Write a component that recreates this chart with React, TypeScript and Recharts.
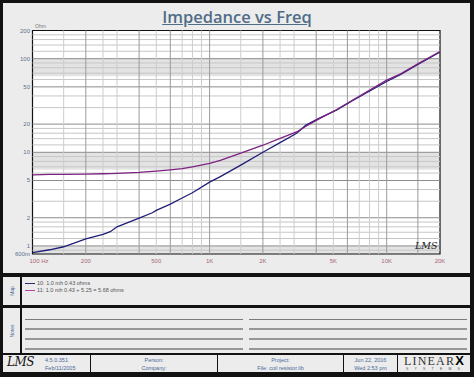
import React from 'react';
import { LineChart, Line, XAxis, YAxis, ReferenceLine, ReferenceArea } from 'recharts';

// measured impedance sweep, 100 Hz .. 20 kHz
const freqHz = [100, 125, 150, 200, 250, 275, 300, 400, 475, 500, 600, 700, 800, 1000, 1150, 1500, 2000, 2500, 3100, 3500, 4200, 5200, 6400, 10000, 12000, 15000, 20000];
// 10: 1.0 mh 0.43 ohms
const coil10 = [0.85, 0.91, 0.98, 1.19, 1.33, 1.42, 1.6, 1.98, 2.26, 2.4, 2.8, 3.25, 3.7, 4.8, 5.5, 7.3, 10.0, 12.7, 16.0, 19.5, 23.3, 28.2, 35.5, 57, 68, 87, 118];
// 11: 1.0 mh 0.43 + 5.25 = 5.68 ohms
const coil11 = [5.75, 5.8, 5.8, 5.85, 5.9, 5.92, 5.97, 6.1, 6.25, 6.3, 6.5, 6.7, 7.0, 7.6, 8.2, 9.8, 11.9, 14.1, 16.5, 19.0, 23.0, 28.5, 36, 59, 69, 88, 119];

const xTicks = [100, 200, 500, 1000, 2000, 5000, 10000, 20000];
const xTickLabels = ['100 Hz', '200', '500', '1K', '2K', '5K', '10K', '20K'];
const yTicks = [0.82, 1, 2, 5, 10, 20, 50, 100, 200];
const yTickLabels = ['600m', '1', '2', '5', '10', '20', '50', '100', '200'];

const legendItems = [
  { label: '10: 1.0 mh  0.43 ohms', color: '#2a2a72' },
  { label: '11: 1.0 mh  0.43 + 5.25 = 5.68 ohms', color: '#b540aa' },
];

const NAVY = '#1f1f78';
const PURPLE = '#7c2282';

// grid
const xMult = [1, 1.5, 2, 2.5, 3, 4, 5, 6, 7, 8, 9];
const xDark = [200, 400, 600, 1000, 2000, 4000, 6000, 10000, 15000];
const xGrid = [100, 1000, 10000].flatMap(d => xMult.map(m => Math.round(m * d))).filter(v => v > 100 && v < 20000);
const yMult = [1, 1.2, 1.4, 1.6, 1.8, 2, 3, 4, 5, 6, 7, 8, 9];
const yDark = [1, 2, 5, 10, 20, 50, 100];
const yGrid = [0.9, ...[1, 10, 100].flatMap(d => yMult.map(m => +(m * d).toFixed(2)))].filter(v => v < 200);
const bands = [[0.82, 1], [6.5, 10], [65, 100]];

const data = freqHz.map((f, i) => ({ f, c10: coil10[i], c11: coil11[i] }));

const font = '"Liberation Sans", Arial, sans-serif';

function XTick(props: any) {
  const { x, y, payload } = props;
  const i = xTicks.indexOf(payload.value);
  const first = i === 0;
  return (
    <text x={first ? x - 3 : x} y={y + 1} textAnchor={first ? 'start' : 'middle'} fontSize={6} fill="#a86676" fontFamily={font}>
      {first ? '100   Hz' : xTickLabels[i]}
    </text>
  );
}

function YTick(props: any) {
  const { x, y, payload } = props;
  const i = yTicks.indexOf(payload.value);
  return (
    <text x={x + 5.5} y={y + 2} textAnchor="end" fontSize={6} fill="#5d6f8a" fontFamily={font}>
      {yTickLabels[i]}
    </text>
  );
}

const panel = (top: number, height: number): React.CSSProperties => ({
  position: 'absolute', left: 3, top, width: 467, height, background: '#ececec',
});

const small: React.CSSProperties = { fontSize: 6, fontFamily: font, color: '#555', lineHeight: '7px' };

export default function App() {
  return (
    <div style={{ position: 'relative', width: 474, height: 377, background: '#121212', overflow: 'hidden', fontFamily: font }}>
      <style>{'body{margin:0}'}</style>

      {/* main chart panel */}
      <div style={panel(3, 270)} />
      <div style={{ position: 'absolute', left: 0, top: 5, width: 474, textAlign: 'center', fontFamily: '"Open Sans", sans-serif', fontWeight: 600, fontSize: 16.5, color: '#4f6c88', textDecoration: 'underline' }}>
        Impedance vs Freq
      </div>
      <div style={{ position: 'absolute', left: 35, top: 23, fontSize: 5, color: '#777' }}>Ohm</div>

      <div style={{ position: 'absolute', left: 0, top: 0 }}>
        <LineChart width={474} height={273} data={data} margin={{ top: 30.5, right: 34, bottom: 0, left: 0 }}>
          <XAxis dataKey="f" type="number" scale="log" domain={[100, 20000]} ticks={xTicks} tick={XTick} interval={0} tickLine={false} axisLine={false} height={19} allowDataOverflow />
          <YAxis type="number" scale="log" domain={[0.82, 200]} ticks={yTicks} tick={YTick} interval={0} tickLine={false} axisLine={false} width={32.5} allowDataOverflow />
          <ReferenceArea x1={100} x2={20000} y1={0.82} y2={200} fill="#ffffff" fillOpacity={1} stroke="none" />
          {bands.map(([a, b]) => (
            <ReferenceArea key={'b' + a} x1={100} x2={20000} y1={a} y2={b} fill="#e3e3e3" fillOpacity={1} stroke="none" />
          ))}
          {yGrid.map(v => (
            <ReferenceLine key={'y' + v} y={v} stroke={yDark.includes(v) ? '#8c8c8c' : '#c6c6c6'} strokeWidth={1} />
          ))}
          {xGrid.map(v => (
            <ReferenceLine key={'x' + v} x={v} stroke={xDark.includes(v) ? '#9a9a9a' : '#cdcdcd'} strokeWidth={1} />
          ))}
          <Line type="linear" dataKey="c10" stroke={NAVY} strokeWidth={1.3} dot={false} isAnimationActive={false} />
          <Line type="linear" dataKey="c11" stroke={PURPLE} strokeWidth={1.3} dot={false} isAnimationActive={false} />
          <ReferenceArea x1={100} x2={20000} y1={0.82} y2={200} fill="none" stroke="#111" strokeWidth={1.2} />
        </LineChart>
      </div>
      <div style={{ position: 'absolute', left: 415, top: 240, fontFamily: '"DejaVu Serif", serif', fontStyle: 'italic', fontSize: 9.5, color: '#222' }}>LMS</div>

      {/* map / legend panel */}
      <div style={panel(277, 28)} />
      <div style={{ position: 'absolute', left: 20, top: 277, width: 2, height: 28, background: '#121212' }} />
      <div style={{ position: 'absolute', left: 3, top: 277, width: 17, height: 28, display: 'flex', alignItems: 'center', justifyContent: 'center' }}>
        <div style={{ transform: 'rotate(-90deg)', fontSize: 5, color: '#4a6a9a' }}>Map</div>
      </div>
      {legendItems.map((it, i) => (
        <div key={it.label} style={{ position: 'absolute', left: 25, top: 280 + i * 7, display: 'flex', alignItems: 'center' }}>
          <div style={{ width: 10, height: 1.5, background: it.color, marginRight: 2 }} />
          <span style={{ ...small, fontSize: 5.5 }}>{it.label}</span>
        </div>
      ))}

      {/* notes panel */}
      <div style={panel(308, 45)} />
      <div style={{ position: 'absolute', left: 20, top: 308, width: 2, height: 45, background: '#121212' }} />
      <div style={{ position: 'absolute', left: 3, top: 308, width: 17, height: 45, display: 'flex', alignItems: 'center', justifyContent: 'center' }}>
        <div style={{ transform: 'rotate(-90deg)', fontSize: 5, color: '#4a6a9a' }}>Notes</div>
      </div>
      {[319, 328, 338, 348].map((y, i) => (
        <React.Fragment key={y}>
          <div style={{ position: 'absolute', left: 25, top: y, width: 218, height: i === 0 ? 1 : 1.5, background: i === 0 ? '#7a7a7a' : '#979797' }} />
          <div style={{ position: 'absolute', left: 249, top: y, width: 218, height: i === 0 ? 1 : 1.5, background: i === 0 ? '#7a7a7a' : '#979797' }} />
        </React.Fragment>
      ))}

      {/* footer */}
      <div style={panel(355, 17)} />
      {[90, 217, 343, 397].map(x => (
        <div key={x} style={{ position: 'absolute', left: x, top: 355, width: 1, height: 17, background: '#121212' }} />
      ))}
      <div style={{ position: 'absolute', left: 7, top: 355, fontFamily: '"DejaVu Serif", serif', fontStyle: 'italic', fontSize: 12, color: '#111', letterSpacing: -0.5, lineHeight: '15px' }}>LMS</div>
      <div style={{ position: 'absolute', left: 45, top: 357, fontSize: 5.5, color: '#4a6a9a', lineHeight: '7.5px' }}>4.5.0.351<br />Feb/11/2005</div>
      <div style={{ position: 'absolute', left: 91, top: 357, width: 126, textAlign: 'center', fontSize: 5.5, color: '#4a6a9a', lineHeight: '7.5px' }}>Person:<br />Company:</div>
      <div style={{ position: 'absolute', left: 218, top: 357, width: 125, textAlign: 'center', fontSize: 5.5, color: '#4a6a9a', lineHeight: '7.5px' }}>Project:<br />File: coil resistor.lib</div>
      <div style={{ position: 'absolute', left: 344, top: 357, width: 53, textAlign: 'center', fontSize: 5.5, color: '#4a6a9a', lineHeight: '7.5px' }}>Jun 22, 2016<br />Wed  2:53 pm</div>
      <div style={{ position: 'absolute', left: 404, top: 356, fontFamily: '"Liberation Serif", serif', fontSize: 12, color: '#333', letterSpacing: 1.2, lineHeight: '10px' }}>
        LINEAR<span style={{ fontFamily: font, fontWeight: 900, color: '#000', fontSize: 13 }}>X</span>
      </div>
      <div style={{ position: 'absolute', left: 406, top: 367, fontSize: 3.5, color: '#555', letterSpacing: 6.2, lineHeight: '4px' }}>SYSTEMS</div>
    </div>
  );
}
